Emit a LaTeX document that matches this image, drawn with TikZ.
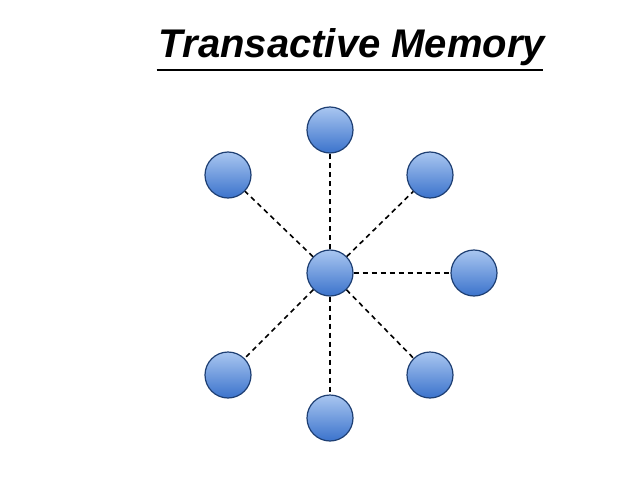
\documentclass[tikz,border=0pt]{standalone}
\usepackage{fontspec}
\setmainfont{Liberation Sans}
\usetikzlibrary{positioning,calc}
\definecolor{ballTop}{HTML}{A9C6F0}
\definecolor{ballBot}{HTML}{3B73CC}
\definecolor{ballEdge}{HTML}{1E3F73}
\begin{document}
\begin{tikzpicture}[x=1pt,y=-1pt,
		member/.style = {circle, draw=ballEdge, line width=1.2pt, minimum size=46pt, inner sep=0pt, top color=ballTop, bottom color=ballBot},
		link/.style   = {draw, line width=1.6pt, dash pattern=on 5pt off 4pt}]
		
		\useasboundingbox (0,0) rectangle (638,479);
		
		% title
		\node[inner sep=0pt] (title) at (352,47) {\fontsize{40}{46}\selectfont\bfseries\itshape Transactive Memory};
		\draw[line width=2pt] ($(title.south west)+(-2,4)$) -- ($(title.south east)+(-2,4)$);
		
		% centre and members around it
		\node[member] (hub) at (330,273) {};
		\node[member] (m1) at (330,130) {};
		\node[member] (m2) at (430,175) {};
		\node[member] (m3) at (474,273) {};
		\node[member] (m4) at (430,375) {};
		\node[member] (m5) at (330,418) {};
		\node[member] (m6) at (228,375) {};
		\node[member] (m7) at (228,175) {};
		
		% links from the centre to every member
		\foreach \value in {1,...,7}
		\draw[link] (hub) -- (m\value);
		
	\end{tikzpicture}
\end{document}
